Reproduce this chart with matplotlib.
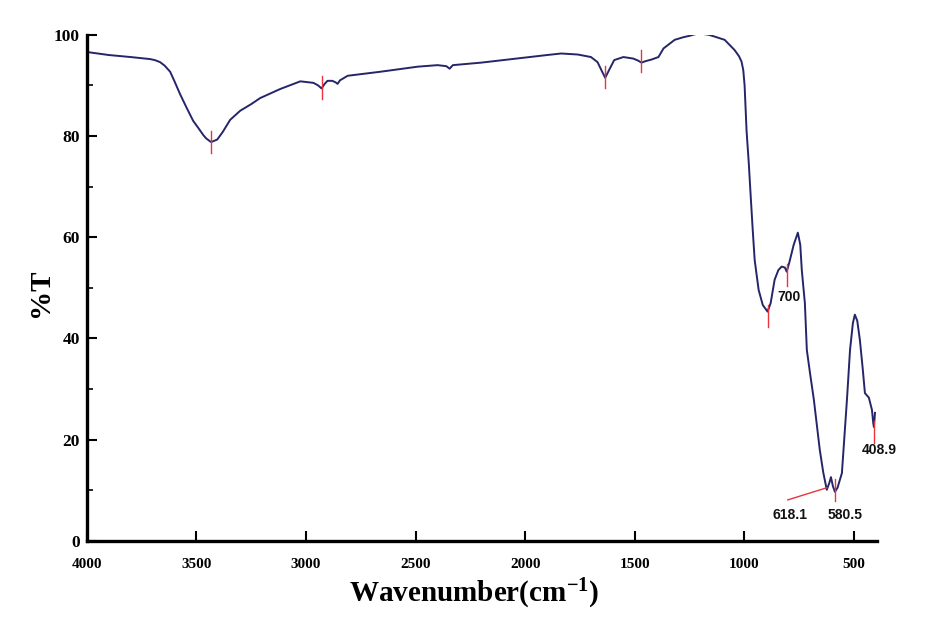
import numpy as np
import matplotlib
matplotlib.use("Agg")
import matplotlib.pyplot as plt
from matplotlib.ticker import MultipleLocator

plt.rcParams['mathtext.fontset'] = 'custom'
plt.rcParams['mathtext.rm'] = 'Liberation Serif:bold'
plt.rcParams['mathtext.it'] = 'Liberation Serif:bold'
plt.rcParams['mathtext.bf'] = 'Liberation Serif:bold'

# FTIR spectrum
wavenumber = [4000, 3900, 3800, 3712, 3690, 3666, 3645, 3620, 3600, 3575,
              3545, 3515, 3490, 3469, 3455, 3433, 3405, 3380, 3346, 3300,
              3250, 3209, 3117, 3026, 2966, 2945, 2929, 2915, 2902, 2880,
              2865, 2856, 2845, 2810, 2660, 2490, 2400, 2360, 2345, 2330,
              2200, 2100, 2000, 1900, 1836, 1760, 1700, 1670, 1650, 1635,
              1620, 1594, 1552, 1507, 1485, 1470, 1450, 1424, 1392, 1369,
              1318, 1280, 1250, 1209, 1163, 1140, 1090, 1045, 1025, 1013,
              1005, 999, 990, 980, 971, 962, 953, 935, 916, 894,
              880, 862, 845, 830, 815, 807, 795, 775, 756, 745,
              738, 724, 715, 700, 683, 656, 640, 624, 612, 605,
              596, 587, 575, 555, 532, 518, 505, 496, 485, 473,
              460, 450, 440, 432, 418, 412, 409, 404]
transmittance = [96.6, 96.0, 95.6, 95.2, 95.0, 94.6, 93.9, 92.7, 90.8, 88.3,
                 85.6, 83.0, 81.5, 80.2, 79.5, 78.8, 79.3, 80.8, 83.2, 85.0,
                 86.3, 87.5, 89.3, 90.8, 90.5, 90.0, 89.4, 90.3, 90.9, 90.9,
                 90.6, 90.3, 91.0, 91.9, 92.7, 93.7, 94.0, 93.8, 93.3, 94.0,
                 94.5, 95.0, 95.5, 96.0, 96.3, 96.1, 95.6, 94.6, 92.8, 91.5,
                 92.8, 95.0, 95.6, 95.3, 94.9, 94.5, 94.8, 95.1, 95.6, 97.3,
                 99.0, 99.5, 99.8, 100.3, 100.0, 99.7, 99.0, 97.0, 95.8, 94.7,
                 93.0, 90.0, 81.0, 74.7, 68.0, 61.5, 55.5, 49.6, 46.6, 45.3,
                 47.0, 51.6, 53.5, 54.2, 54.0, 53.2, 55.0, 58.5, 60.9, 58.5,
                 53.5, 47.0, 37.7, 33.0, 27.9, 18.0, 13.5, 10.1, 11.5, 12.6,
                 10.8, 9.7, 10.5, 13.4, 27.9, 37.7, 43.0, 44.7, 43.5, 39.7,
                 34.0, 29.2, 28.7, 28.3, 25.9, 23.3, 22.5, 25.3]

# red peak markers (position, level) and their labels
peak_wn = [3433, 2929, 1635, 1470, 894, 807, 587, 410]
peak_t = [78.8, 89.6, 91.6, 94.8, 44.5, 52.5, 10.0, 21.5]
label_text = ["700", "618.1", "580.5", "408.9"]
label_wn = [797, 793, 541, 386]
label_t = [48.2, 5.1, 5.1, 18.0]
# leader line for 618.1
leader_wn = [802, 624]
leader_t = [8.1, 10.5]

fig = plt.figure(figsize=(9.44, 6.21), dpi=100)
ax = fig.add_axes([0.092, 0.129, 0.837, 0.815])

ax.plot(wavenumber, transmittance, color='#25256a', lw=1.4)

for w, t in zip(peak_wn, peak_t):
    ax.plot([w, w], [t - 2.2, t + 2.2], color='#e8343a', lw=1.0)
ax.plot(leader_wn, leader_t, color='#e8343a', lw=1.0)

for s, w, t in zip(label_text, label_wn, label_t):
    ax.text(w, t, s, ha='center', va='center', fontsize=10,
            fontweight='bold', family='Liberation Sans', color='#111111')

ax.set_xlim(4000, 395)
ax.set_ylim(0, 100)
ax.xaxis.set_major_locator(MultipleLocator(500))
ax.yaxis.set_major_locator(MultipleLocator(20))
ax.yaxis.set_minor_locator(MultipleLocator(10))

for side in ['top', 'right']:
    ax.spines[side].set_visible(False)
for side in ['left', 'bottom']:
    ax.spines[side].set_linewidth(2.4)

ax.tick_params(axis='both', which='major', direction='in', length=7, width=1.5)
ax.tick_params(axis='y', which='minor', direction='in', length=4, width=1.2)
ax.tick_params(axis='x', pad=12)
ax.tick_params(axis='y', pad=5)
for lab in ax.get_xticklabels():
    lab.set_family('Liberation Serif')
    lab.set_fontweight('bold')
    lab.set_fontsize(11)
for lab in ax.get_yticklabels():
    lab.set_family('Liberation Serif')
    lab.set_fontweight('bold')
    lab.set_fontsize(12.5)

ax.set_xlabel(r'Wavenumber(cm$^{-1}$)', fontsize=21, fontweight='bold',
              family='Liberation Serif')
ax.xaxis.set_label_coords(0.49, -0.105)
ax.xaxis.label.set_va('center')
ax.set_ylabel('%T', fontsize=21, fontweight='bold', family='Liberation Serif')
ax.yaxis.set_label_coords(-0.059, 0.49)
ax.yaxis.label.set_va('center')

fig.savefig('out.png', dpi=100)
